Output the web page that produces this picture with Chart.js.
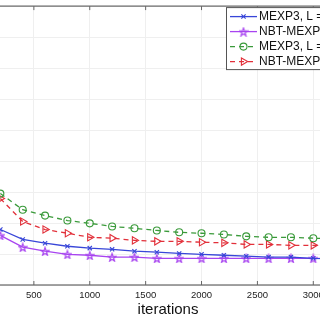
<!DOCTYPE html>
<html>
<head>
<meta charset="utf-8">
<script src="https://cdn.jsdelivr.net/npm/chart.js@4.4.1/dist/chart.umd.min.js"></script>
<style>
  html, body { margin: 0; padding: 0; background: #fff; }
  #wrap { position: relative; width: 320px; height: 320px; overflow: hidden; }
  #chart { position: absolute; left: -40px; top: 0; }
</style>
</head>
<body>
<div id="wrap"><canvas id="chart" width="420" height="320"></canvas></div>
<script>
const FONT = "'Liberation Sans', Arial, Helvetica, sans-serif";

const iterations = [200, 400, 600, 800, 1000, 1200, 1400, 1600, 1800, 2000, 2200, 2400, 2600, 2800, 3000, 3200];
const xTicks = [0, 500, 1000, 1500, 2000, 2500, 3000];

const seriesLabels = ["MEXP3, L = 1", "NBT-MEXP3, L = 1", "MEXP3, L = 2", "NBT-MEXP3, L = 2"];

const mexp3L1 = [0.179, 0.147, 0.135, 0.125, 0.119, 0.115, 0.109, 0.106, 0.102, 0.099, 0.096, 0.093, 0.090, 0.090, 0.086, 0.085];
const nbtL1 = [0.160, 0.122, 0.109, 0.099, 0.096, 0.090, 0.090, 0.086, 0.086, 0.086, 0.086, 0.086, 0.086, 0.086, 0.086, 0.085];
const mexp3L2 = [0.295, 0.243, 0.224, 0.208, 0.199, 0.189, 0.183, 0.176, 0.170, 0.167, 0.163, 0.157, 0.154, 0.154, 0.151, 0.149];
const nbtL2 = [0.279, 0.205, 0.179, 0.167, 0.154, 0.151, 0.144, 0.141, 0.141, 0.138, 0.136, 0.131, 0.131, 0.128, 0.128, 0.127];


function toPoints(values) {
  return values.map((v, i) => ({ x: iterations[i], y: v }));
}


function makePentagram(color, size) {
  const c = document.createElement("canvas");
  c.width = size;
  c.height = size;
  const ctx = c.getContext("2d");
  const R = size / 2 - 0.8;
  const r = R * 0.4;
  ctx.strokeStyle = color;
  ctx.lineWidth = 1.2;
  ctx.beginPath();
  for (let i = 0; i < 10; i++) {
    const rad = i % 2 ? r : R;
    const a = -Math.PI / 2 + i * Math.PI / 5;
    const px = size / 2 + rad * Math.cos(a);
    const py = size / 2 + 0.6 + rad * Math.sin(a);
    if (i === 0) ctx.moveTo(px, py); else ctx.lineTo(px, py);
  }
  ctx.closePath();
  ctx.stroke();
  return c;
}

const BLUE = "#3846d8";
const PURPLE = "#a844f0";
const GREEN = "#3a9a3a";
const RED = "#e2303a";

const starImg = makePentagram(PURPLE, 10);


// plot box + inward tick marks, like matlab axes
const framePlugin = {
  id: "frame",
  afterDatasetsDraw(chart) {
    const { ctx, chartArea: a, scales } = chart;
    ctx.save();
    ctx.strokeStyle = "#666";
    ctx.lineWidth = 1.2;
    ctx.strokeRect(a.left, a.top, a.right - a.left, a.bottom - a.top);
    ctx.lineWidth = 1;
    ctx.beginPath();
    xTicks.forEach((t) => {
      const x = scales.x.getPixelForValue(t);
      ctx.moveTo(x, a.bottom);
      ctx.lineTo(x, a.bottom - 4);
      ctx.moveTo(x, a.top);
      ctx.lineTo(x, a.top + 4);
    });
    ctx.stroke();
    ctx.restore();
  }
};


// legend box drawn inside the plot, top right
const legendPlugin = {
  id: "boxLegend",
  afterDatasetsDraw(chart) {
    const { ctx, chartArea: a } = chart;
    const w = 130;
    const left = a.right - w - 2;
    const top = a.top + 1;
    const rowH = 15;
    ctx.save();
    ctx.fillStyle = "#fff";
    ctx.fillRect(left, top, w, 62);
    ctx.strokeStyle = "#555";
    ctx.lineWidth = 1;
    ctx.strokeRect(left + 0.5, top + 0.5, w, 62);

    chart.data.datasets.forEach((ds, i) => {
      const y = top + 9.5 + i * rowH;
      const x0 = left + 4;
      const x1 = left + 31;
      ctx.strokeStyle = ds.borderColor;
      ctx.lineWidth = ds.borderWidth;
      ctx.setLineDash(ds.borderDash || []);
      ctx.beginPath();
      ctx.moveTo(x0, y);
      ctx.lineTo(x1, y);
      ctx.stroke();
      ctx.setLineDash([]);
      ctx.fillStyle = "rgba(0,0,0,0)";
      ctx.lineWidth = ds.pointBorderWidth;
      Chart.helpers.drawPoint(ctx, {
        pointStyle: ds.pointStyle,
        rotation: ds.pointRotation || 0,
        radius: ds.pointRadius,
        borderWidth: ds.pointBorderWidth
      }, (x0 + x1) / 2, y);
      ctx.fillStyle = "#111";
      ctx.font = "12px " + FONT;
      ctx.textBaseline = "middle";
      ctx.fillText(ds.label, x1 + 2, y + 0.5);
    });
    ctx.restore();
  }
};


function makeDataset(label, values, color, style, dash) {
  return {
    label: label,
    data: toPoints(values),
    borderColor: color,
    backgroundColor: "rgba(0,0,0,0)",
    borderWidth: 1.3,
    borderDash: dash,
    pointStyle: style.pointStyle,
    pointRotation: style.rotation || 0,
    pointRadius: style.radius,
    pointBorderWidth: 1.1,
    pointBorderColor: color,
    pointBackgroundColor: "rgba(0,0,0,0)",
    tension: 0
  };
}


new Chart(document.getElementById("chart"), {
  type: "line",
  data: {
    datasets: [
      makeDataset(seriesLabels[0], mexp3L1, BLUE, { pointStyle: "crossRot", radius: 3 }, []),
      makeDataset(seriesLabels[1], nbtL1, PURPLE, { pointStyle: starImg, radius: 5 }, []),
      makeDataset(seriesLabels[2], mexp3L2, GREEN, { pointStyle: "circle", radius: 3.5 }, [5, 4]),
      makeDataset(seriesLabels[3], nbtL2, RED, { pointStyle: "triangle", rotation: 90, radius: 4.2 }, [5, 4])
    ]
  },
  options: {
    responsive: false,
    animation: false,
    devicePixelRatio: 1,
    layout: { padding: { left: 18, right: 22, top: 4, bottom: 0 } },
    plugins: {
      legend: { display: false },
      tooltip: { enabled: false }
    },
    scales: {
      x: {
        type: "linear",
        min: 0,
        max: 3400,
        border: { display: false },
        grid: { color: "#efefef", drawTicks: false },
        afterBuildTicks(scale) {
          scale.ticks = xTicks.map((v) => ({ value: v }));
        },
        afterFit(scale) {
          scale.height = 35;
        },
        ticks: {
          autoSkip: false,
          maxRotation: 0,
          padding: 5,
          color: "#222",
          font: { family: FONT, size: 9.5 },
          callback: (v) => String(v)
        },
        title: {
          display: true,
          text: "iterations",
          color: "#111",
          padding: { top: 0, bottom: 1 },
          font: { family: FONT, size: 15 }
        }
      },
      y: {
        min: 0,
        max: 0.9,
        border: { display: false },
        grid: { color: "#efefef", drawTicks: false },
        ticks: { display: false, stepSize: 0.1 },
        afterFit(scale) {
          scale.width = 0;
        }
      }
    }
  },
  plugins: [framePlugin, legendPlugin]
});
</script>
</body>
</html>
